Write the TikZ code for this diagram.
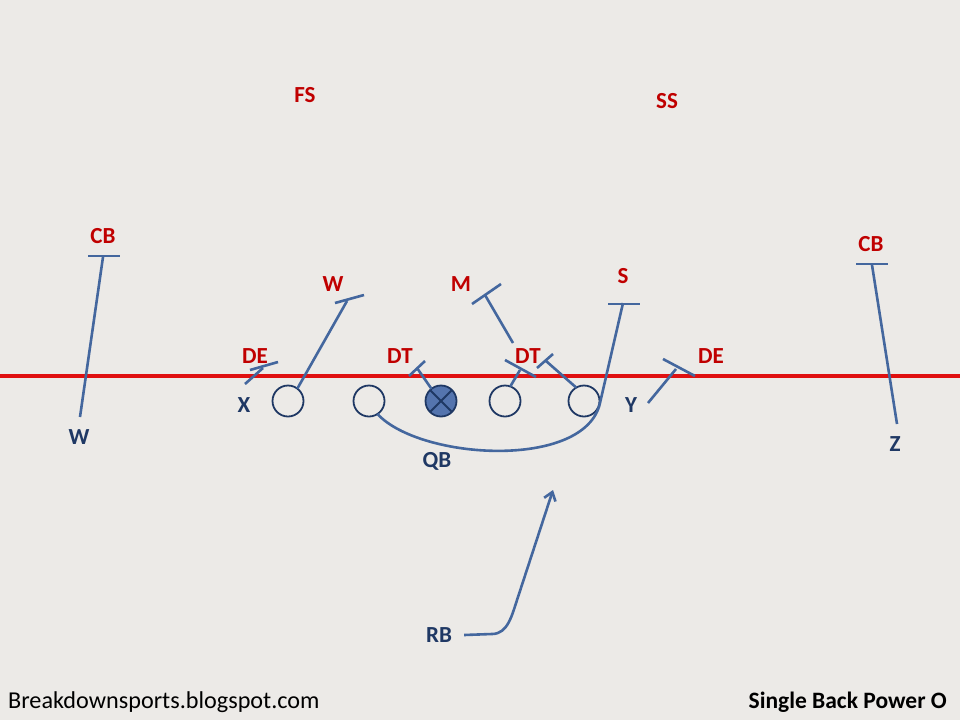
\documentclass[tikz,border=0pt]{standalone}
\usepackage{fontspec}
\setmainfont{Carlito}
\usetikzlibrary{arrows.meta}
\definecolor{bg}{HTML}{ECEAE7}
\definecolor{rd}{HTML}{C00000}
\definecolor{nv}{HTML}{1F3864}
\definecolor{rt}{HTML}{44679E}
\definecolor{ln}{HTML}{E01010}
\definecolor{cfill}{HTML}{5474AE}
\begin{document}
\begin{tikzpicture}[x=1pt,y=-1pt,
  lbl/.style={inner sep=0pt,text height=14.8pt,text depth=0pt,font=\fontsize{23}{23}\selectfont\bfseries},
  def/.style={lbl,text=rd},
  off/.style={lbl,text=nv},
  player/.style={circle,draw=nv,line width=1.8pt,fill=bg,minimum size=31pt,inner sep=0pt,outer sep=0pt},
  route/.style={draw=rt,line width=2.6pt},
  foot/.style={inner sep=0pt,text=black,font=\fontsize{24.2}{24.2}\selectfont}]
\fill[bg] (0,0) rectangle (960,720);
\useasboundingbox (0,0) rectangle (960,720);
% line of scrimmage
\coordinate (losL) at (0,376);
\coordinate (losR) at (960,376);
\draw[ln,line width=3.2pt] (losL) -- (losR);
% defense labels
\node[def] (fs) at (305,95) {FS};
\node[def] (ss) at (667,101) {SS};
\node[def] (cbl) at (103,236) {CB};
\node[def] (cbr) at (871,244) {CB};
\node[def] (wlb) at (333,284) {W};
\node[def] (mlb) at (461,284) {M};
\node[def] (slb) at (623,276) {S};
\node[def] (del) at (255,356) {DE};
\node[def] (dtl) at (400,356) {DT};
\node[def] (dtr) at (528,356) {DT};
\node[def] (der) at (711,356) {DE};
% offense labels
\node[off] (xl) at (244,405) {X};
\node[off] (yl) at (631,405) {Y};
\node[off] (wl) at (79,437) {W};
\node[off] (zl) at (895,444) {Z};
\node[off] (qb) at (437,460) {QB};
\node[off] (rb) at (439,635) {RB};
% linemen
\node[player] (lt) at (288,401) {};
\node[player] (lg) at (369,401) {};
\node[player,fill=cfill] (c) at (441,401) {};
\draw[nv,line width=1.8pt] (c.north west) -- (c.south east) (c.north east) -- (c.south west);
\node[player] (rg) at (505,401) {};
\node[player] (rtk) at (584,401) {};
% coordinates for routes
\coordinate (xs) at (245,384);   \coordinate (xe) at (263,368);
\coordinate (xb1) at (250,370);  \coordinate (xb2) at (278,362);
\coordinate (we) at (347,301);
\coordinate (wb1) at (335,303);  \coordinate (wb2) at (364,295);
\coordinate (ce) at (417,368);
\coordinate (cb1) at (409,376);  \coordinate (cb2) at (425,361);
\coordinate (ms) at (513,343);   \coordinate (me) at (485,295);
\coordinate (mb1) at (472,304);  \coordinate (mb2) at (501,284);
\coordinate (rge) at (520,370);
\coordinate (rgb1) at (505,360); \coordinate (rgb2) at (536,377);
\coordinate (rte) at (546,361);
\coordinate (rtb1) at (537,368); \coordinate (rtb2) at (553,354);
\coordinate (pk) at (600,403);   \coordinate (pe) at (623,303);
\coordinate (pb1) at (608,304);  \coordinate (pb2) at (640,304);
\coordinate (ys) at (648,403);   \coordinate (ye) at (676,369);
\coordinate (yb1) at (663,359);  \coordinate (yb2) at (695,376);
\coordinate (cls) at (80,417);   \coordinate (cle) at (103,257);
\coordinate (clb1) at (88,256);  \coordinate (clb2) at (120,256);
\coordinate (crs) at (897,424);  \coordinate (cre) at (872,265);
\coordinate (crb1) at (856,264); \coordinate (crb2) at (888,264);
\coordinate (rb1) at (492,634);  \coordinate (rb2) at (518,597);
\coordinate (rbe) at (553,490);
% routes
\draw[route] (xs) -- (xe);  \draw[route] (xb1) -- (xb2);
\draw[route] (lt.53) -- (we);  \draw[route] (wb1) -- (wb2);
\draw[route] (c.128) -- (ce);  \draw[route] (cb1) -- (cb2);
\draw[route] (ms) -- (me);  \draw[route] (mb1) -- (mb2);
\draw[route] (rg.70) -- (rge);  \draw[route] (rgb1) -- (rgb2);
\draw[route] (rtk.120) -- (rte);  \draw[route] (rtb1) -- (rtb2);
\draw[route] (lg.-57) .. controls (420,460) and (585,470) .. (pk) -- (pe);
\draw[route] (pb1) -- (pb2);
\draw[route] (ys) -- (ye);  \draw[route] (yb1) -- (yb2);
\draw[route] (cls) -- (cle);  \draw[route] (clb1) -- (clb2);
\draw[route] (crs) -- (cre);  \draw[route] (crb1) -- (crb2);
\draw[route,-{Straight Barb[length=8pt,width=12pt]}] ([xshift=12pt]rb.east) -- (rb1) .. controls (508,634) and (512,615) .. (rb2) -- (rbe);
% footer
\node[foot,anchor=base west] (site) at (8,708) {Breakdownsports.blogspot.com};
\node[foot,anchor=base east,font=\fontsize{23.5}{23.5}\selectfont\bfseries] (title) at (947,708) {Single Back Power O};
\end{tikzpicture}
\end{document}
